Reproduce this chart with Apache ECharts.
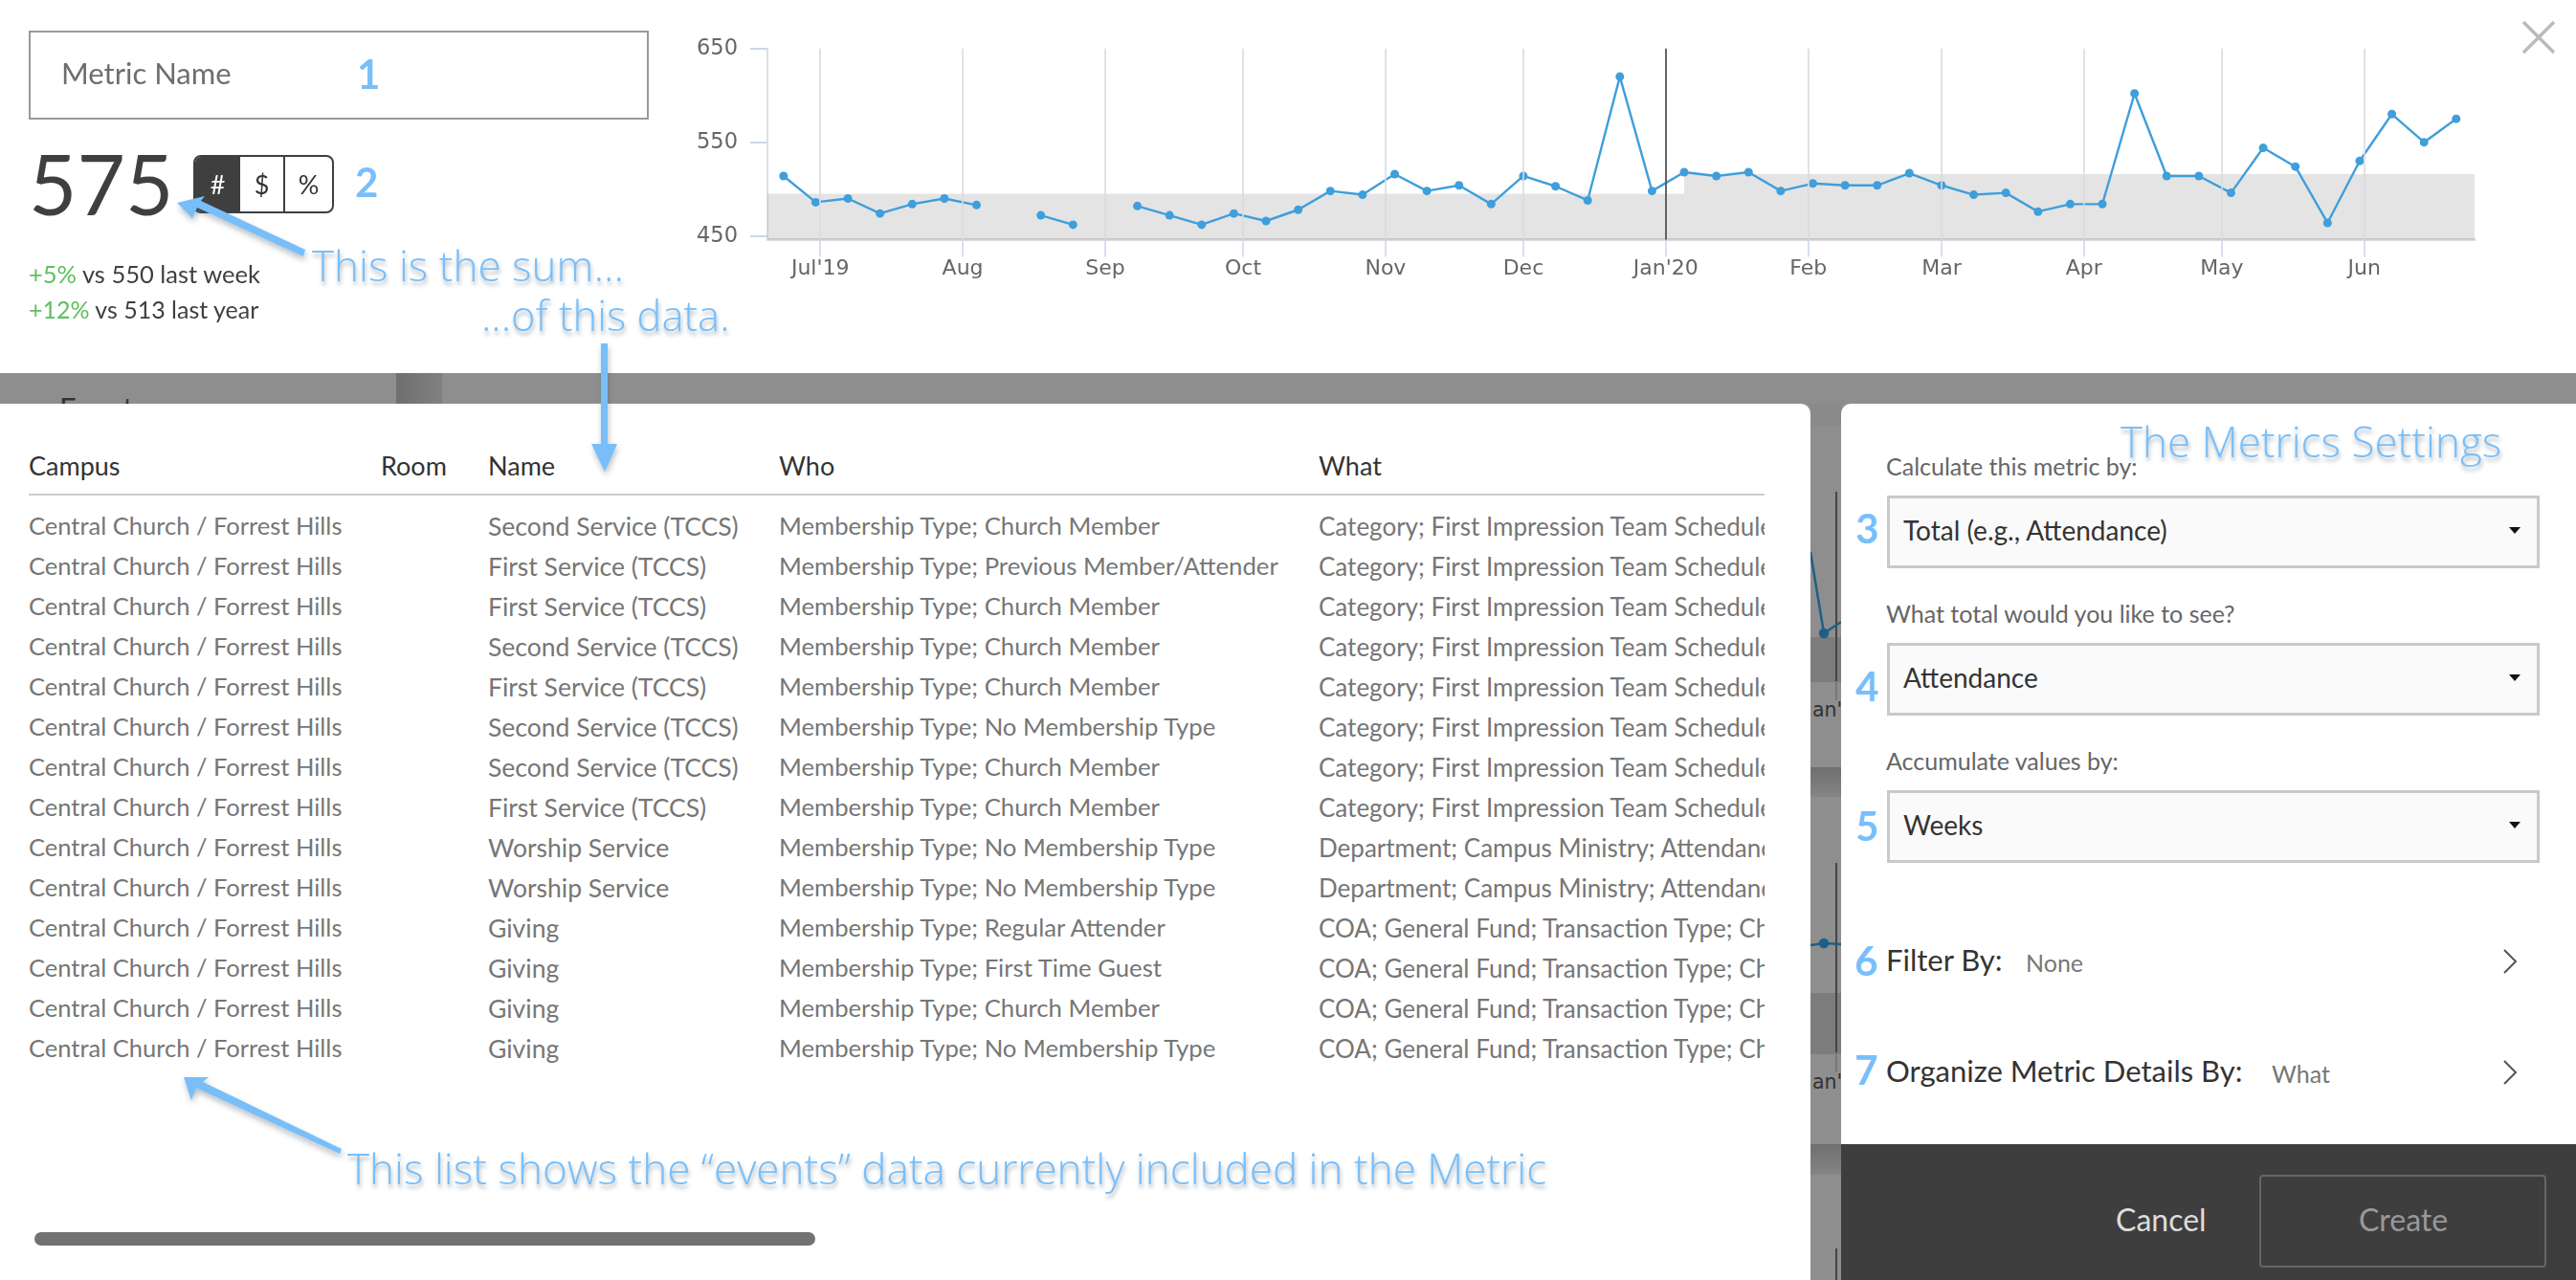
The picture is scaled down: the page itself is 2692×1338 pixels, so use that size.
<!DOCTYPE html>
<html lang="en">
<head>
<meta charset="utf-8">
<title>Metric</title>
<script src="https://cdn.jsdelivr.net/npm/echarts@6/dist/echarts.min.js"></script>
<style>
  html, body { margin: 0; height: 100%; background: #fff; overflow: hidden; }
  body { position: relative; width: 2692px; height: 1338px; font-family: Lato, "Open Sans", sans-serif; }
  .abs { position: absolute; }
  .t { position: absolute; white-space: nowrap; transform: translateY(-50%); line-height: 1.2; }
  .note { color: #78bffa; font-family: "Open Sans", sans-serif; font-weight: 300; font-size: 44px; text-shadow: 1px 4px 4px rgba(70,90,110,.45); }
  .num { color: #78bffa; font-weight: 700; font-size: 42px; }
  .sel { position: absolute; left: 1972px; width: 676px; height: 70px; border: 3px solid #c9c9c9; background: #fafafa; }
  .caret { position: absolute; left: 2622px; width: 0; height: 0; border-left: 6px solid transparent; border-right: 6px solid transparent; border-top: 7px solid #111; }
  #chart { position: absolute; left: 0; top: 0; width: 2692px; height: 390px; }
</style>
</head>
<body>
<div id="chart"></div>
<div id="page"></div>
<script>
// weekly totals, null = no data that week
var weeks = [
  '2019-06-23', '2019-06-30', '2019-07-07', '2019-07-14', '2019-07-21', '2019-07-28', '2019-08-04', '2019-08-11',
  '2019-08-18', '2019-08-25', '2019-09-01', '2019-09-08', '2019-09-15', '2019-09-22', '2019-09-29', '2019-10-06',
  '2019-10-13', '2019-10-20', '2019-10-27', '2019-11-03', '2019-11-10', '2019-11-17', '2019-11-24', '2019-12-01',
  '2019-12-08', '2019-12-15', '2019-12-22', '2019-12-29', '2020-01-05', '2020-01-12', '2020-01-19', '2020-01-26',
  '2020-02-02', '2020-02-09', '2020-02-16', '2020-02-23', '2020-03-01', '2020-03-08', '2020-03-15', '2020-03-22',
  '2020-03-29', '2020-04-05', '2020-04-12', '2020-04-19', '2020-04-26', '2020-05-03', '2020-05-10', '2020-05-17',
  '2020-05-24', '2020-05-31', '2020-06-07', '2020-06-14', '2020-06-21'
];
var totals = [
  514, 486, 490, 474, 484, 490, 483, null,
  472, 462, null, 482, 472, 462, 474, 466,
  478, 498, 494, 516, 498, 504, 484, 514,
  503, 488, 620, 498, 518, 514, 518, 498,
  506, 504, 504, 517, 504, 494, 496, 476,
  484, 484, 602, 514, 514, 496, 544, 524,
  464, 530, 580, 550, 575
];
var monthDates = ['2019-07-01', '2019-08-01', '2019-09-01', '2019-10-01', '2019-11-01', '2019-12-01', '2020-01-01', '2020-02-01', '2020-03-01', '2020-04-01', '2020-05-01', '2020-06-01'];
var monthLabels = ["Jul'19", 'Aug', 'Sep', 'Oct', 'Nov', 'Dec', "Jan'20", 'Feb', 'Mar', 'Apr', 'May', 'Jun'];
var yTicks = [450, 550, 650];
var axisStart = '2019-06-19 12:00:00';
var axisEnd = '2020-06-25';
var yearChange = '2020-01-01';
// grey range bands: [from, to, low, high]
var bands = [
  [axisStart, '2020-01-05', 446, 495],
  ['2020-01-05', axisEnd, 446, 516]
];

// events list
var tableHeads = ['Campus', 'Room', 'Name', 'Who', 'What'];
var campusName = 'Central Church / Forrest Hills';
var rowNames = ['Second Service (TCCS)', 'First Service (TCCS)', 'First Service (TCCS)', 'Second Service (TCCS)', 'First Service (TCCS)', 'Second Service (TCCS)', 'Second Service (TCCS)', 'First Service (TCCS)', 'Worship Service', 'Worship Service', 'Giving', 'Giving', 'Giving', 'Giving'];
var rowWho = ['Church Member', 'Previous Member/Attender', 'Church Member', 'Church Member', 'Church Member', 'No Membership Type', 'Church Member', 'Church Member', 'No Membership Type', 'No Membership Type', 'Regular Attender', 'First Time Guest', 'Church Member', 'No Membership Type'];
var whatSchedule = 'Category; First Impression Team Schedule';
var whatDept = 'Department; Campus Ministry; Attendance';
var whatCoa = 'COA; General Fund; Transaction Type; Check';
var rowWhat = [whatSchedule, whatSchedule, whatSchedule, whatSchedule, whatSchedule, whatSchedule, whatSchedule, whatSchedule, whatDept, whatDept, whatCoa, whatCoa, whatCoa, whatCoa];

var chart = echarts.init(document.getElementById('chart'), null, { renderer: 'canvas' });
function toTime(d) { return echarts.time.parse(d).getTime(); }
var monthTimes = monthDates.map(toTime);

chart.setOption({
  animation: false,
  grid: { left: 802, top: 50.7, width: 1784, height: 199.9 },
  xAxis: {
    type: 'value',
    min: toTime(axisStart),
    max: toTime(axisEnd),
    axisLine: { lineStyle: { color: '#dcdcdc', width: 3 } },
    axisTick: { show: true, length: 18, customValues: monthTimes, lineStyle: { color: '#ccd6eb', width: 1.5 } },
    axisLabel: {
      customValues: monthTimes,
      margin: 20,
      color: '#666',
      fontFamily: 'DejaVu Sans',
      fontSize: 22,
      formatter: function (v) { return monthLabels[monthTimes.indexOf(v)]; }
    },
    splitLine: { show: false }
  },
  yAxis: {
    type: 'value',
    min: 446,
    max: 650,
    axisLine: { show: true, lineStyle: { color: '#ccd6eb', width: 1.5 } },
    axisTick: { show: true, length: 18, customValues: yTicks, lineStyle: { color: '#ccd6eb', width: 2 } },
    axisLabel: { customValues: yTicks, margin: 31, color: '#666', fontFamily: 'DejaVu Sans', fontSize: 22.5, padding: [8, 0, 0, 0] },
    splitLine: { show: false }
  },
  series: [{
    type: 'line',
    data: weeks.map(function (w, i) { return [toTime(w), totals[i]]; }),
    connectNulls: false,
    symbol: 'circle',
    symbolSize: 9,
    showAllSymbol: true,
    lineStyle: { color: '#3f9edb', width: 2.4 },
    itemStyle: { color: '#3f9edb' },
    markArea: {
      silent: true,
      itemStyle: { color: 'rgba(0,0,0,0.105)' },
      data: bands.map(function (b) {
        return [{ xAxis: toTime(b[0]), yAxis: b[2] }, { xAxis: toTime(b[1]), yAxis: b[3] }];
      })
    },
    markLine: {
      silent: true,
      symbol: 'none',
      label: { show: false },
      data: monthDates.map(function (d) {
        var dark = d === yearChange;
        return { xAxis: toTime(d), lineStyle: { type: 'solid', color: dark ? '#555' : '#d9dbe0', width: dark ? 1.8 : 1.6 } };
      })
    }
  }]
});
window.addEventListener('resize', chart.resize);

// everything around the chart: the dialog it sits in
function box(left, top, w, h, css) {
  return '<div class="abs" style="left:' + left + 'px;top:' + top + 'px;width:' + w + 'px;height:' + h + 'px;' + (css || '') + '"></div>';
}
function text(str, left, cy, css, cls) {
  return '<div class="t ' + (cls || '') + '" style="left:' + left + 'px;top:' + cy + 'px;' + (css || '') + '">' + str + '</div>';
}

var html = '';

// dimmed page behind the dialog
html += box(0, 390, 2692, 948, 'background:#8e8e8e');
html += box(414, 390, 48, 32, 'background:linear-gradient(90deg,#6f6f6f,#808080)');
html += '<div class="abs" style="left:62px;top:408px;height:14px;overflow:hidden;font-size:31px;line-height:36px;color:#333">Events</div>';

// sliver of the page showing between the two panels
html += box(1892, 422, 32, 24, 'background:#8a8a8a');
html += box(1892, 666, 32, 47, 'background:#7c7c7c');
html += box(1892, 1038, 32, 64, 'background:#7c7c7c');
html += box(1892, 802, 32, 31, 'background:linear-gradient(#6f6f6f,#858585)');
html += box(1892, 1196, 32, 32, 'background:linear-gradient(#6f6f6f,#858585)');
html += box(1918, 514, 2, 198, 'background:#444');
html += box(1918, 902, 2, 198, 'background:#444');
html += box(1918, 1305, 2, 33, 'background:#444');
html += box(1918, 712, 2, 20, 'background:#74777c');
html += box(1918, 1100, 2, 20, 'background:#74777c');
html += '<svg class="abs" style="left:1892px;top:422px" width="32" height="916" fill="none" stroke="#1f5f85" stroke-width="2.5">' +
  '<path d="M0 155L14 240L32 228"/><circle cx="14" cy="240" r="4" fill="#1f5f85"/>' +
  '<path d="M0 566L14 564L32 565"/><circle cx="14" cy="564" r="4" fill="#1f5f85"/></svg>';
html += '<div class="abs" style="left:1892px;top:720px;width:32px;height:430px;overflow:hidden;font-family:\'DejaVu Sans\';font-size:20.5px;color:#333">' +
  '<div style="position:absolute;left:2px;top:10px">an\'</div><div style="position:absolute;left:2px;top:399px">an\'</div></div>';

// metric header
html += box(30, 32, 644, 89, 'border:2px solid #999');
html += text('Metric Name', 64, 77, 'font-size:31px;color:#6e6e6e');
html += text('1', 373, 77, '', 'num');
html += text('575', 30, 191.5, 'font-size:87px;font-weight:400;color:#3f3f3f');
html += '<div class="abs" style="left:202px;top:162px;width:143px;height:57px;border:2px solid #3f3f3f;border-radius:8px;overflow:hidden;display:flex;font-size:27px;text-align:center;line-height:57px;color:#333">' +
  '<div style="width:47px;background:#3f3f3f;color:#fff">#</div><div style="width:45px;border-right:2px solid #3f3f3f">$</div><div style="flex:1">%</div></div>';
html += text('2', 371, 190, '', 'num');
html += text('<span style="color:#5fbf5f">+5%</span> vs 550 last week', 30, 286, 'font-size:25.5px;color:#3f3f3f');
html += text('<span style="color:#5fbf5f">+12%</span> vs 513 last year', 30, 323, 'font-size:25px;color:#3f3f3f');

// close X
html += '<svg class="abs" style="left:2634px;top:20px" width="38" height="38" stroke="#bbb" stroke-width="3.5"><path d="M3 3L35 35M35 3L3 35"/></svg>';

// events panel
html += box(0, 422, 1892, 916, 'background:#fff;border-top-right-radius:10px');
var colX = [30, 398, 510, 814, 1378];
tableHeads.forEach(function (h, i) {
  html += text(h, colX[i], 486.5, 'font-size:27px;color:#333');
});
html += box(30, 516, 1814, 2, 'background:#ccc');
rowNames.forEach(function (name, i) {
  var cy = 42 * i;
  var css = 'color:#767676;';
  html += text(campusName, colX[0], 549 + cy, css + 'font-size:25.5px;');
  html += text(name, colX[2], 551 + cy, css + 'font-size:26.5px;');
  html += text('Membership Type; ' + rowWho[i], colX[3], 549 + cy, css + 'font-size:25.7px;');
  html += text(rowWhat[i], colX[4], 550.5 + cy, css + 'font-size:26px;width:466px;overflow:hidden;');
});
html += box(36, 1288, 816, 14, 'background:#727272;border-radius:7px');

// settings panel
html += box(1924, 422, 768, 916, 'background:#fff;border-top-left-radius:10px');
var selLabels = ['Calculate this metric by:', 'What total would you like to see?', 'Accumulate values by:'];
var selValues = ['Total (e.g., Attendance)', 'Attendance', 'Weeks'];
var selNums = ['3', '4', '5'];
var selNumY = [552, 717, 863];
var selTops = [518, 672, 826];
selLabels.forEach(function (l, i) {
  var top = selTops[i];
  html += text(l, 1971, top - 31.5, 'font-size:25px;color:#666');
  html += '<div class="sel" style="top:' + top + 'px"></div>';
  html += text(selValues[i], 1989, top + 37, 'font-size:28px;color:#333');
  html += '<div class="caret" style="top:' + (top + 33) + 'px"></div>';
  html += text(selNums[i], 1939, selNumY[i], '', 'num');
});
html += text('6', 1938, 1004, '', 'num');
html += text('Filter By:', 1971, 1004, 'font-size:31px;color:#333');
html += text('None', 2117, 1006, 'font-size:25px;color:#777');
html += text('7', 1938, 1118, '', 'num');
html += text('Organize Metric Details By:', 1971, 1120, 'font-size:31px;color:#333');
html += text('What', 2374, 1122, 'font-size:25px;color:#777');
html += '<svg class="abs" style="left:2612px;top:990px" width="22" height="146" fill="none" stroke="#555" stroke-width="2"><path d="M5 3L17 15L5 27M5 119L17 131L5 143"/></svg>';
html += box(1924, 1196, 768, 142, 'background:#3e3e3e');
html += text('Cancel', 2211, 1275, 'font-size:32px;color:#ddd');
html += box(2361, 1228, 296, 93, 'border:2px solid #666;border-radius:4px');
html += text('Create', 2465, 1275, 'font-size:32px;color:#999');

// annotations
html += '<svg class="abs" style="left:0;top:0;filter:drop-shadow(1px 4px 3px rgba(70,90,110,.4))" width="2692" height="1338" fill="#78bffa" stroke="none">' +
  '<path d="M319 261L317 268L206 217L201 228L185 212L214 205L210 210Z"/>' +
  '<path d="M628 359H635V464H645L632 493L618 464H628Z"/>' +
  '<path d="M357 1201L355 1206L205 1137L200 1150L192 1126L218 1126L212 1131Z"/></svg>';
html += text('This is the sum...', 326, 277, '', 'note');
html += text('...of this data.', 503, 330, 'font-size:43.5px', 'note');
html += text('This list shows the \u201cevents\u201d data currently included in the Metric', 363, 1221, '', 'note');
html += text('The Metrics Settings', 2216, 461, '', 'note');

document.getElementById('page').innerHTML = html;
</script>
</body>
</html>
